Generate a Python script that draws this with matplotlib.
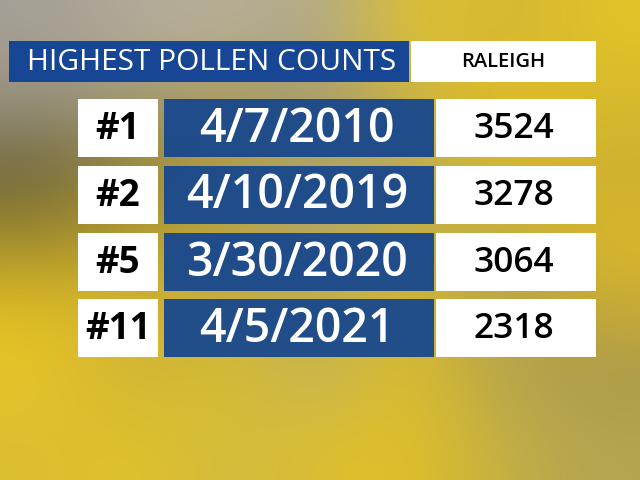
import numpy as np
import matplotlib
matplotlib.use("Agg")
import matplotlib.pyplot as plt
from matplotlib.patches import Rectangle

title = "HIGHEST POLLEN COUNTS"
city = "RALEIGH"
ranks = ["#1", "#2", "#5", "#11"]
dates = ["4/7/2010", "4/10/2019", "3/30/2020", "4/5/2021"]
counts = [3524, 3278, 3064, 2318]

# rough colour grid for the blurred flower photo behind the table
bg_colors = np.array([
    [[165, 160, 150], [180, 172, 155], [185, 175, 150], [175, 168, 140], [225, 195, 45], [210, 180, 55], [225, 195, 40]],
    [[150, 145, 125], [160, 150, 110], [170, 155, 90], [160, 150, 110], [205, 180, 65], [225, 190, 35], [215, 185, 45]],
    [[110, 100, 60], [150, 135, 60], [185, 160, 60], [175, 165, 110], [185, 170, 90], [215, 185, 45], [205, 175, 50]],
    [[160, 140, 45], [185, 160, 45], [190, 165, 65], [175, 165, 110], [205, 180, 60], [190, 170, 70], [220, 185, 40]],
    [[225, 190, 35], [210, 180, 50], [200, 175, 70], [190, 175, 80], [215, 185, 45], [175, 160, 80], [200, 170, 55]],
    [[230, 195, 40], [205, 180, 55], [220, 190, 45], [195, 180, 90], [225, 190, 40], [180, 165, 80], [170, 155, 75]],
    [[220, 190, 50], [225, 195, 40], [210, 185, 65], [220, 190, 50], [225, 192, 38], [195, 175, 70], [180, 165, 80]],
]) / 255.0

TITLE_BLUE = "#174794"
BLUE = "#1b4a8c"

fig = plt.figure(figsize=(6.4, 4.8), dpi=100)
ax = fig.add_axes([0, 0, 1, 1])
ax.set_xlim(0, 640)
ax.set_ylim(480, 0)
ax.axis("off")

ax.imshow(bg_colors, extent=[0, 640, 480, 0], interpolation="bicubic", aspect="auto", zorder=0)

font = "Open Sans"

# header
ax.add_patch(Rectangle((9, 41), 400, 41, facecolor=TITLE_BLUE, edgecolor="none", zorder=2))
ax.text(27, 62, title, color="white", fontsize=21.5, family=font, fontweight="medium",
        ha="left", va="center", zorder=3)
ax.add_patch(Rectangle((411, 41), 185, 41, facecolor="white", edgecolor="none", zorder=2))
ax.text(503, 62, city, color="black", fontsize=14.5, family=font, fontweight="semibold",
        ha="center", va="center", zorder=3)

row_tops = [99, 166, 233, 299]
row_h = 58
for top, rank, date, count in zip(row_tops, ranks, dates, counts):
    cy = top + row_h / 2
    ax.add_patch(Rectangle((78, top), 80, row_h, facecolor="white", edgecolor="none", zorder=2))
    ax.add_patch(Rectangle((164, top), 270, row_h, facecolor=BLUE, alpha=0.97, edgecolor="none", zorder=2))
    ax.add_patch(Rectangle((436, top), 160, row_h, facecolor="white", edgecolor="none", zorder=2))
    ax.text(118, cy + 1, rank, color="black", fontsize=26.5, family=font, fontweight="bold",
            ha="center", va="center", zorder=3)
    ax.text(297, cy + 1, date, color="white", fontsize=33.5, family=font, fontweight="semibold",
            ha="center", va="center", zorder=3)
    ax.text(514, cy + 1, str(count), color="black", fontsize=25.5, family=font, fontweight="semibold",
            ha="center", va="center", zorder=3)

fig.savefig("out.png", dpi=100)
